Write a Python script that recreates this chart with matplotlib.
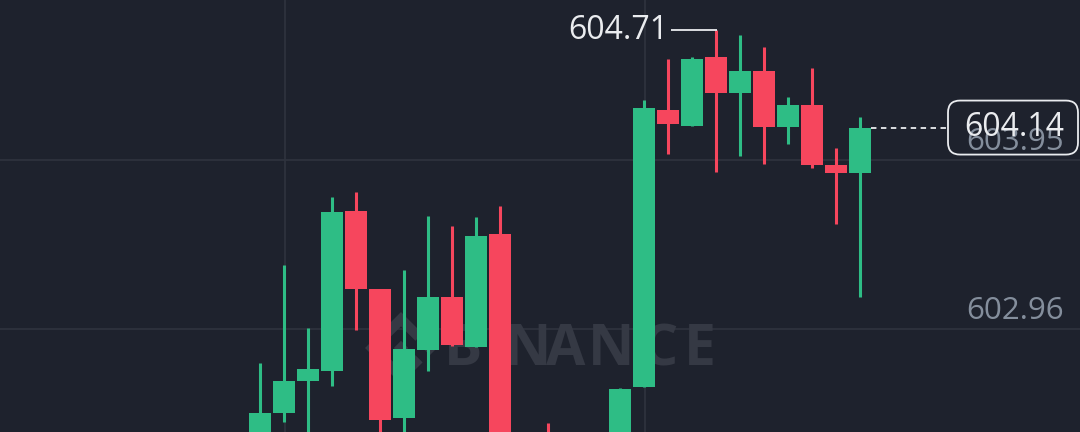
import numpy as np
import matplotlib
matplotlib.use('Agg')
import matplotlib.pyplot as plt
from matplotlib.patches import Polygon, FancyBboxPatch
from matplotlib.transforms import IdentityTransform

# ------------------------ Data ------------------------ #
opens  = [602.25, 602.468, 602.655, 602.714, 603.651, 603.194, 602.439, 602.837, 603.148, 602.855,
          603.517, 601.95, 602.10, 601.85, 602.00, 602.25, 602.620, 604.243, 604.149, 604.553,
          604.342, 604.471, 604.143, 604.272, 603.921, 603.874]
highs  = [602.761, 603.335, 602.966, 603.733, 603.763, 603.194, 603.306, 603.622, 603.563, 603.616,
          603.681, 602.25, 602.409, 602.20, 602.33, 602.614, 604.301, 604.542, 604.553, 604.71,
          604.682, 604.612, 604.319, 604.489, 604.020, 604.202]
lows   = [602.15, 602.415, 602.30, 602.626, 602.954, 602.30, 602.30, 602.714, 602.860, 602.855,
          601.90, 601.80, 601.75, 601.70, 601.90, 602.20, 602.620, 603.985, 604.149, 603.880,
          603.973, 603.927, 604.044, 603.903, 603.575, 603.148]
closes = [602.468, 602.655, 602.726, 603.645, 603.194, 602.427, 602.843, 603.148, 602.866, 603.505,
          601.95, 602.10, 601.85, 602.00, 602.25, 602.609, 604.255, 604.161, 604.542, 604.342,
          604.471, 604.143, 604.272, 603.921, 603.874, 604.14]

price_ticks = [602.96, 603.95]
time_grid = [1.04, 16.04]

# ------------------------ Style ------------------------ #
colors = {
  'bg': '#1e222d',
  'grid': '#2f333e',
  'up': '#2ebd85',
  'down': '#f6465d',
  'text': '#eaecef',
  'axis': '#848e9c',
  'mark': '#353944'
}
plt.rcParams['font.family'] = ['Open Sans', 'DejaVu Sans']

fig = plt.figure(figsize=(10.8, 4.32), dpi=100, facecolor=colors['bg'])
ax = fig.add_axes([0, 0, 1, 1])
ax.set_facecolor(colors['bg'])
ax.set_xlim(-10.833, 34.167)
ax.set_ylim(602.3566, 604.8873)
ax.axis('off')

# grid
for p in price_ticks:
  ax.axhline(p, color=colors['grid'], lw=1.2, zorder=0.3)
for t in time_grid:
  ax.axvline(t, color=colors['grid'], lw=1.2, zorder=0.3)

# watermark (logo + letters) under the candles, figure pixel coords
cx, cy, r = 401 / 1080, 1 - 348 / 432, 36
sx, sy = r / 1080, r / 432
shapes = [
  [(0, 1), (0.6, 0.4), (0.4, 0.2), (0, 0.6), (-0.4, 0.2), (-0.6, 0.4)],
  [(0, -1), (0.6, -0.4), (0.4, -0.2), (0, -0.6), (-0.4, -0.2), (-0.6, -0.4)],
  [(-1, 0), (-0.8, 0.2), (-0.6, 0), (-0.8, -0.2)],
  [(1, 0), (0.8, 0.2), (0.6, 0), (0.8, -0.2)],
  [(0, 0.2), (0.2, 0), (0, -0.2), (-0.2, 0)],
]
for s in shapes:
  pts = [(cx + x * sx, cy + y * sy) for x, y in s]
  ax.add_patch(Polygon(pts, closed=True, transform=fig.transFigure, fc=colors['mark'], ec='none', zorder=0.5))
letter_x = [463, 497, 528, 566, 611, 660, 700]
for ch, lx in zip('BINANCE', letter_x):
  ax.text(lx / 1080, 1 - 350 / 432, ch, transform=fig.transFigure, fontsize=41, fontweight='bold',
          color=colors['mark'], va='center', ha='center', zorder=0.5)

# candles
idx = np.arange(len(opens))
o, h, l, c = map(np.array, (opens, highs, lows, closes))
up = c >= o
cols = np.where(up, colors['up'], colors['down'])
ax.vlines(idx, l, h, colors=cols, lw=2.2, zorder=2)
ax.bar(idx, np.maximum(np.abs(c - o), 0.012), bottom=np.minimum(o, c), width=0.9, color=cols, zorder=3)

# right axis labels
for p in price_ticks:
  ax.text(1064 / 1080, p + 0.02, '%.2f' % p, transform=ax.get_yaxis_transform(), ha='right', va='bottom',
          fontsize=22.5, color=colors['axis'], zorder=4)

# high marker
hi = int(np.argmax(h))
ax.hlines(h[hi], hi - 1.88, hi + 0.05, color=colors['text'], lw=1.3, zorder=4)
ax.text(hi - 2.0, h[hi], '%.2f' % h[hi], ha='right', va='center', fontsize=23, color=colors['text'], zorder=4)

# last price line + box
last = c[-1]
box_x = (947 - 260) / 24
ax.hlines(last, idx[-1] + 0.45, box_x, color=colors['text'], lw=1.3, linestyles=(0, (3, 2.5)), zorder=4)
fig.canvas.draw()
y_last = ax.transData.transform((0, last))[1]
ax.add_patch(FancyBboxPatch((948, y_last - 27), 130, 54, boxstyle='round,pad=0,rounding_size=12',
                            transform=IdentityTransform(), fc='none', ec=colors['text'], lw=1.3, zorder=5))
ax.text(1064 / 1080, last, '%.2f' % last, transform=ax.get_yaxis_transform(), ha='right', va='center',
        fontsize=23, color=colors['text'], zorder=6)

plt.savefig('out.png', dpi=100, facecolor=colors['bg'])
